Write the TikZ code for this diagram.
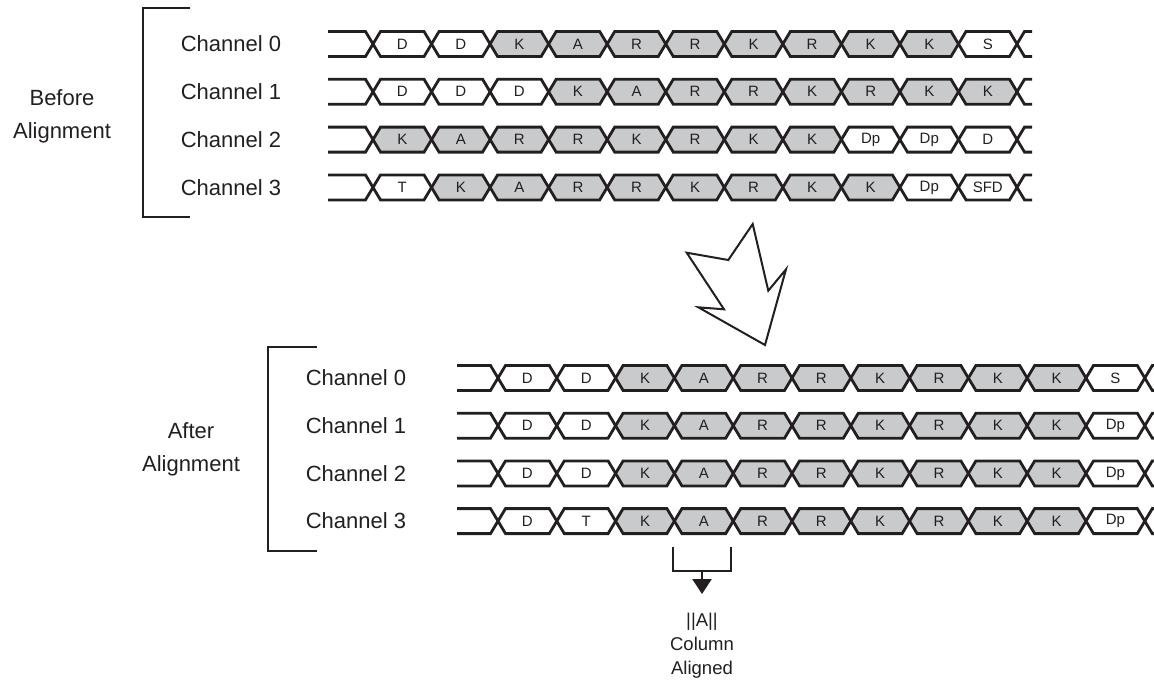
\documentclass[tikz,border=0pt]{standalone}
\usepackage{fontspec}
\setmainfont{Liberation Sans}
\usetikzlibrary{arrows.meta, positioning}
\definecolor{SymGray}{RGB}{200,202,204}
\definecolor{InkBlack}{RGB}{35,31,32}

\tikzset{
	lane/.style={draw=InkBlack, line width=2.8pt, line join=miter},
	sym K/.style={fill=SymGray},
	sym A/.style={fill=SymGray},
	sym R/.style={fill=SymGray},
	sym D/.style={fill=white},
	sym Dp/.style={fill=white},
	sym S/.style={fill=white},
	sym T/.style={fill=white},
	sym SFD/.style={fill=white},
	symtext/.style={font=\fontsize{15}{15}\selectfont, text=InkBlack},
	chlabel/.style={font=\fontsize{22}{22}\selectfont, text=InkBlack},
	sidelabel/.style={font=\fontsize{22}{33}\selectfont, text=InkBlack, align=center},
	notelabel/.style={font=\fontsize{18.5}{24}\selectfont, text=InkBlack, align=center},
	brace/.style={draw=InkBlack, line width=2.6pt},
}

\begin{document}
\begin{tikzpicture}[x=1pt, y=-1pt]
	\useasboundingbox (0,0) rectangle (1154,681);
	\draw[brace] (190,8) -- (143,8) -- (143,217) -- (190,217);
	\node[sidelabel] (before) at (62,116) {Before\\Alignment};
	\foreach \seq [count=\r from 0] in {{D,D,K,A,R,R,K,R,K,K,S}, {D,D,D,K,A,R,R,K,R,K,K},
		{K,A,R,R,K,R,K,K,Dp,Dp,D}, {T,K,A,R,R,K,R,K,K,Dp,SFD}}
	{
		\pgfmathsetmacro\yc{44+47.8*\r}
		\node[chlabel] (pre ch\r) at (231,\yc) {Channel \r};
		\draw[lane] (328,\yc-12.5) -- (365.5,\yc-12.5) -- (373,\yc) -- (365.5,\yc+12.5) -- (328,\yc+12.5);
		\foreach \s [count=\i from 0] in \seq {
			\pgfmathsetmacro\xa{373+58.55*\i}
			\draw[lane, sym \s] (\xa,\yc) -- ++(7.5,-12.5) -- ++(43.55,0) -- ++(7.5,12.5)
				-- ++(-7.5,12.5) -- ++(-43.55,0) -- cycle;
			\node[symtext] (pre\r-\i) at (\xa+29.3,\yc) {\s};
		}
		\draw[lane] (1032,\yc-12.5) -- (1024.5,\yc-12.5) -- (1017,\yc) -- (1024.5,\yc+12.5) -- (1032,\yc+12.5);
	}

	\draw[InkBlack, line width=2pt, line join=miter, fill=white] (752.7,224) -- (768.3,290.7) -- (786,269.3)
		-- (765,345) -- (698.3,307.3) -- (724,309.3) -- (686.7,252.7) -- (728.3,260) -- cycle;

	\draw[brace] (317,347) -- (268,347) -- (268,551) -- (317,551);
	\node[sidelabel] (after) at (191,449) {After\\Alignment};
	\foreach \seq [count=\r from 0] in {{D,D,K,A,R,R,K,R,K,K,S}, {D,D,K,A,R,R,K,R,K,K,Dp},
		{D,D,K,A,R,R,K,R,K,K,Dp}, {D,T,K,A,R,R,K,R,K,K,Dp}}
	{
		\pgfmathsetmacro\yc{378+47.7*\r}
		\node[chlabel] (post ch\r) at (356,\yc) {Channel \r};
		\draw[lane] (457,\yc-12.5) -- (490.5,\yc-12.5) -- (498,\yc) -- (490.5,\yc+12.5) -- (457,\yc+12.5);
		\foreach \s [count=\i from 0] in \seq {
			\pgfmathsetmacro\xa{498+58.8*\i}
			\draw[lane, sym \s] (\xa,\yc) -- ++(7.5,-12.5) -- ++(43.8,0) -- ++(7.5,12.5)
				-- ++(-7.5,12.5) -- ++(-43.8,0) -- cycle;
			\node[symtext] (post\r-\i) at (\xa+29.4,\yc) {\s};
		}
		\draw[lane] (1156,\yc-12.5) -- (1152.3,\yc-12.5) -- (1144.8,\yc) -- (1152.3,\yc+12.5) -- (1156,\yc+12.5);
	}

	\draw[brace] (673,547) -- (673,571) -- (731,571) -- (731,547);
	\coordinate (alignfoot) at (702,571);
	\coordinate (aligntip) at (702,594);
	\draw[brace, -{Triangle[width=19pt, length=15pt]}] (alignfoot) -- (aligntip);
	\node[notelabel] (aligned) at (702,646) {||A||\\Column\\Aligned};
\end{tikzpicture}
\end{document}
